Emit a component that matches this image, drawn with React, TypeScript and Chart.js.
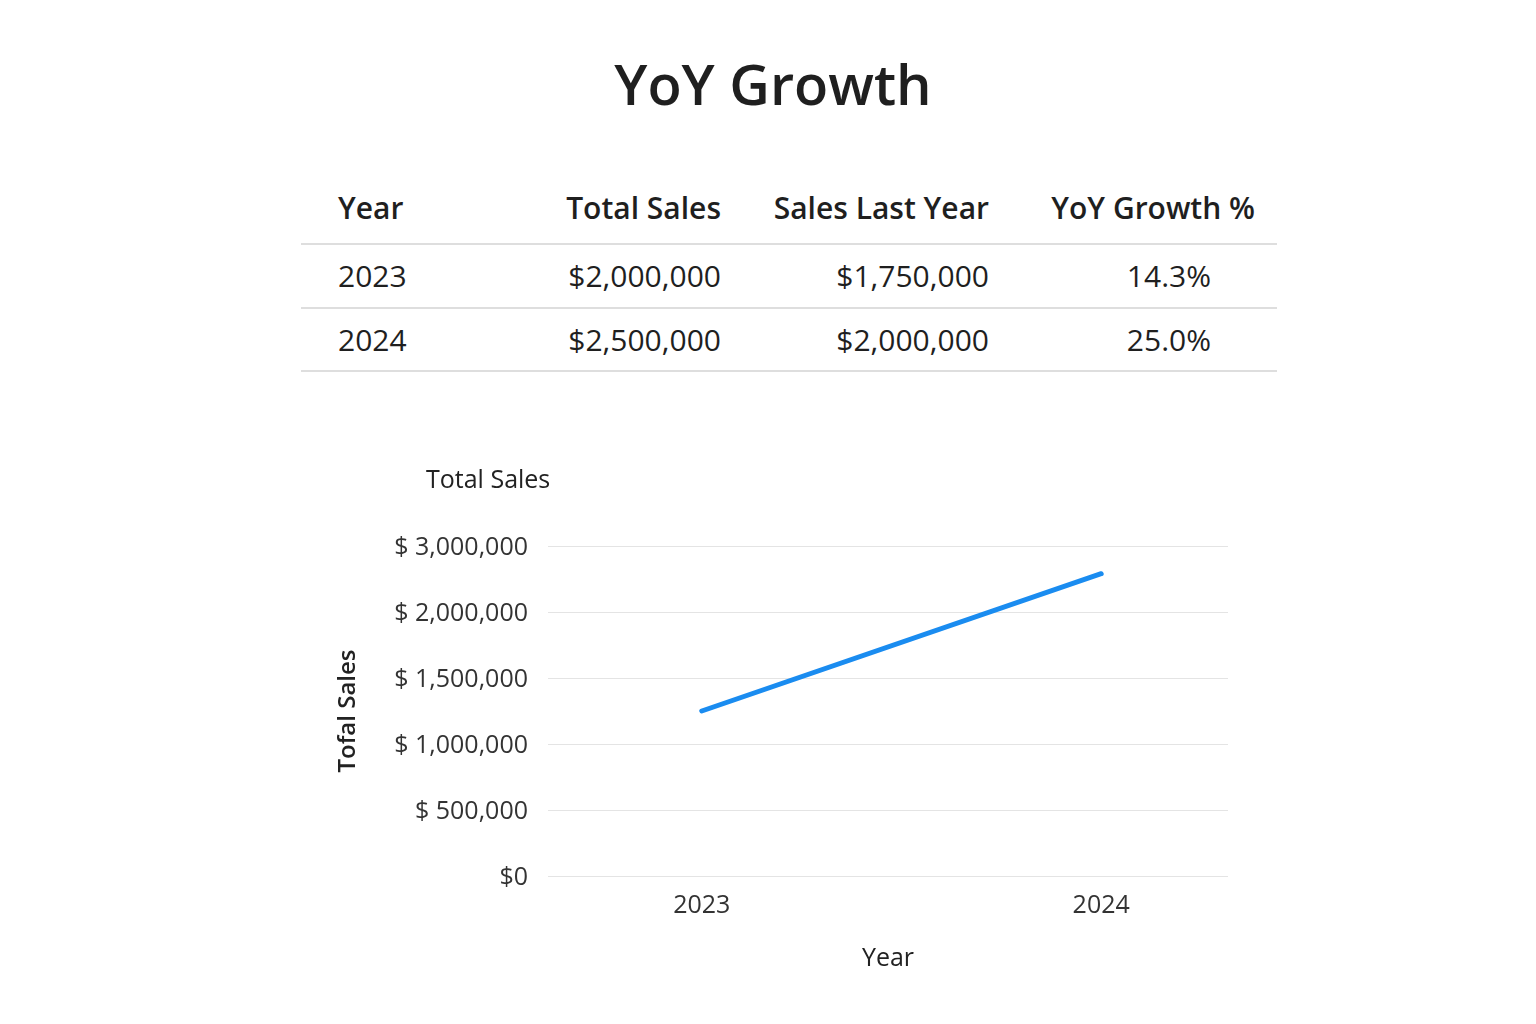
import React, { useEffect, useRef } from "react";
import { Chart, registerables } from "chart.js";

Chart.register(...registerables);

const TITLE = "YoY Growth";
const TABLE_HEADERS = ["Year", "Total Sales", "Sales Last Year", "YoY Growth %"];
const TABLE_YEARS = ["2023", "2024"];
const TABLE_TOTAL_SALES = ["$2,000,000", "$2,500,000"];
const TABLE_LAST_YEAR = ["$1,750,000", "$2,000,000"];
const TABLE_GROWTH = ["14.3%", "25.0%"];

const CHART_YEARS = [2023, 2024];
const CHART_SALES = [1250000, 2290000];
const Y_TICK_LABELS = ["$0", "$ 500,000", "$ 1,000,000", "$ 1,500,000", "$ 2,000,000", "$ 3,000,000"];
const Y_TICK_STEP = 500000;
const Y_AXIS_TITLE = "Tofal Sales";
const X_AXIS_TITLE = "Year";
const TOP_LABEL = "Total Sales";

const FONT = "'Open Sans', 'Noto Sans', sans-serif";

const topLabelPlugin = {
  id: "topLabel",
  afterDraw(chart: any) {
    const ctx = chart.ctx;
    ctx.save();
    ctx.font = `400 25px ${FONT}`;
    ctx.fillStyle = "#222";
    ctx.textBaseline = "middle";
    ctx.textAlign = "left";
    ctx.fillText(TOP_LABEL, chart.chartArea.left - 122, chart.chartArea.top - 65);
    ctx.restore();
  },
};

function LineChart() {
  const ref = useRef<HTMLCanvasElement>(null);
  useEffect(() => {
    if (!ref.current) return;
    const chart = new Chart(ref.current, {
      type: "line",
      data: {
        datasets: [
          {
            label: "Total Sales",
            data: CHART_YEARS.map((x, i) => ({ x, y: CHART_SALES[i] })),
            borderColor: "#1a8cf0",
            borderWidth: 5,
            borderCapStyle: "round",
            pointRadius: 0,
            tension: 0,
            fill: false,
          },
        ],
      },
      options: {
        responsive: false,
        animation: false,
        layout: { padding: { top: 96, right: 32, left: 0, bottom: 0 } },
        plugins: { legend: { display: false }, tooltip: { enabled: false }, title: { display: false } },
        scales: {
          x: {
            type: "linear",
            min: 2022.615,
            max: 2024.3175,
            afterBuildTicks: (scale: any) => {
              scale.ticks = CHART_YEARS.map((v) => ({ value: v }));
            },
            afterFit: (scale: any) => {
              scale.height = 114;
            },
            grid: { display: false, drawTicks: false },
            border: { display: false },
            ticks: {
              padding: 15,
              color: "#333",
              font: { family: FONT, size: 25 },
              callback: (v: any) => String(v),
            },
            title: {
              display: true,
              text: X_AXIS_TITLE,
              color: "#222",
              font: { family: FONT, size: 25 },
              padding: { top: 0, bottom: 16 },
            },
          },
          y: {
            type: "linear",
            min: 0,
            max: Y_TICK_STEP * (Y_TICK_LABELS.length - 1),
            ticks: {
              stepSize: Y_TICK_STEP,
              padding: 20,
              labelOffset: 2,
              color: "#333",
              font: { family: FONT, size: 25 },
              callback: (v: any) => Y_TICK_LABELS[Math.round(Number(v) / Y_TICK_STEP)] ?? "",
            },
            afterFit: (scale: any) => {
              scale.width = 218;
            },
            grid: { color: "#e4e4e4", lineWidth: 1, drawTicks: false },
            border: { display: false },
            title: {
              display: true,
              text: Y_AXIS_TITLE,
              color: "#222",
              font: { family: FONT, size: 24, weight: "600" },
              padding: { top: 4, bottom: 0 },
            },
          },
        },
      },
      plugins: [topLabelPlugin],
    } as any);
    return () => chart.destroy();
  }, []);
  return <canvas ref={ref} width={930} height={540} style={{ width: 930, height: 540, display: "block" }} />;
}

export default function App() {
  const textColor = "#1f1f1f";
  const cols = [
    { left: 301, width: 239, align: "left" as const, padL: 37, hPadR: 0, vPadR: 0 },
    { left: 540, width: 181, align: "right" as const, padL: 0, hPadR: 0, vPadR: 0 },
    { left: 721, width: 268, align: "right" as const, padL: 0, hPadR: 0, vPadR: 0 },
    { left: 989, width: 288, align: "right" as const, padL: 0, hPadR: 22, vPadR: 66 },
  ];
  const rows = [TABLE_YEARS, TABLE_TOTAL_SALES, TABLE_LAST_YEAR, TABLE_GROWTH];
  const rowTops = [244, 308];
  const rowHeights = [64, 63];
  return (
    <div
      style={{
        position: "absolute",
        left: 0,
        top: 0,
        width: 1536,
        height: 1024,
        background: "#fff",
        fontFamily: FONT,
        color: textColor,
        overflow: "hidden",
      }}
    >
      <div
        style={{
          position: "absolute",
          left: 0,
          width: 1546,
          top: 48,
          height: 70,
          lineHeight: "70px",
          textAlign: "center",
          fontSize: 56,
          fontWeight: 600,
        }}
      >
        {TITLE}
      </div>
      {TABLE_HEADERS.map((h, i) => (
        <div
          key={"h" + i}
          style={{
            position: "absolute",
            left: cols[i].left,
            width: cols[i].width,
            top: 172,
            height: 72,
            lineHeight: "72px",
            textAlign: cols[i].align,
            paddingLeft: cols[i].padL,
            paddingRight: cols[i].hPadR,
            boxSizing: "border-box",
            fontSize: 30,
            fontWeight: 600,
            whiteSpace: "nowrap",
          }}
        >
          {h}
        </div>
      ))}
      {[0, 1].map((r) =>
        rows.map((col, c) => (
          <div
            key={`c${r}-${c}`}
            style={{
              position: "absolute",
              left: cols[c].left,
              width: cols[c].width,
              top: rowTops[r],
              height: rowHeights[r],
              lineHeight: rowHeights[r] + "px",
              textAlign: cols[c].align,
              paddingLeft: cols[c].padL,
              paddingRight: cols[c].vPadR,
              boxSizing: "border-box",
              fontSize: 30,
              fontWeight: 400,
              whiteSpace: "nowrap",
            }}
          >
            {col[r]}
          </div>
        ))
      )}
      {[244, 308, 371].map((y) => (
        <div key={"l" + y} style={{ position: "absolute", left: 301, width: 976, top: y - 1, height: 2, background: "#dedede" }} />
      ))}
      <div style={{ position: "absolute", left: 330, top: 450, width: 930, height: 540 }}>
        <LineChart />
      </div>
    </div>
  );
}
